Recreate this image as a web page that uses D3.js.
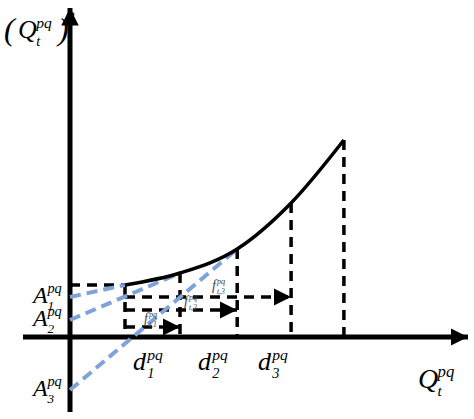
<!DOCTYPE html>
<html><head><meta charset="utf-8">
<script src="https://cdn.jsdelivr.net/npm/d3@7"></script>
<style>body{margin:0;background:#fff}text{font-family:"Liberation Serif",serif;font-style:italic}</style>
</head><body><svg id="c" width="474" height="419"></svg>
<script>
const breakX = [1, 2, 3.04, 4.02, 4.98],
    breakY = [5.2, 6.4, 8.8, 13.4, 19.7],
    interceptY = [4.0, 1.7, -5.3],   // A1, A2, A3
    arrowY = [1.0, 2.7, 4.0],        // f1, f2, f3 rows
    dLabels = ['1', '2', '3'];

const svg = d3.select('#c'),
    x = d3.scaleLinear().domain([0, 1]).range([70, 125]),
    y = d3.scaleLinear().domain([0, 1]).range([337, 327]),
    blue = '#7fa3d9';

const defs = svg.append('defs');
defs.append('marker').attr('id', 'ah').attr('viewBox', '0 0 10 10').attr('refX', 10).attr('refY', 5)
    .attr('markerWidth', 5).attr('markerHeight', 5).attr('orient', 'auto')
    .append('path').attr('d', 'M0,0L10,5L0,10z').attr('fill', '#000');
defs.append('marker').attr('id', 'big').attr('viewBox', '0 0 10 10').attr('refX', 10).attr('refY', 5)
    .attr('markerWidth', 3.5).attr('markerHeight', 3.5).attr('orient', 'auto')
    .append('path').attr('d', 'M0,0L10,5L0,10z').attr('fill', '#000');

// axes
svg.append('line').attr('x1', x(0)).attr('y1', 412).attr('x2', x(0)).attr('y2', 8)
    .attr('stroke', '#000').attr('stroke-width', 5).attr('marker-end', 'url(#big)');
svg.append('line').attr('x1', 23).attr('y1', y(0)).attr('x2', 468).attr('y2', y(0))
    .attr('stroke', '#000').attr('stroke-width', 5).attr('marker-end', 'url(#big)');

const dash = '10,7';
// verticals
breakX.forEach((d, i) => {
    svg.append('line').attr('x1', x(d)).attr('x2', x(d)).attr('y1', y(breakY[i])).attr('y2', y(0))
        .attr('stroke', '#000').attr('stroke-width', 3.5).attr('stroke-dasharray', dash);
});
// A1 horizontal
svg.append('line').attr('x1', x(0)).attr('x2', x(breakX[0])).attr('y1', y(breakY[0])).attr('y2', y(breakY[0]))
    .attr('stroke', '#000').attr('stroke-width', 3.5).attr('stroke-dasharray', dash);
// arrows
arrowY.forEach((v, i) => {
    svg.append('line').attr('x1', x(breakX[0])).attr('x2', x(breakX[i + 1])).attr('y1', y(v)).attr('y2', y(v))
        .attr('stroke', '#000').attr('stroke-width', 3.5).attr('stroke-dasharray', dash)
        .attr('marker-end', 'url(#ah)');
});
// blue tangent lines
interceptY.forEach((v, i) => {
    svg.append('line').attr('x1', x(0)).attr('y1', y(v)).attr('x2', x(breakX[i])).attr('y2', y(breakY[i]))
        .attr('stroke', blue).attr('stroke-width', 4).attr('stroke-dasharray', '11,6');
});
// curve
svg.append('path').datum(breakX.map((d, i) => [d, breakY[i]]))
    .attr('d', d3.line().x(d => x(d[0])).y(d => y(d[1])).curve(d3.curveMonotoneX))
    .attr('fill', 'none').attr('stroke', '#000').attr('stroke-width', 3.5);

// base letter with stacked subscript and superscript
function label(px, py, base, sub, sup, size, col, bw) {
    const g = svg.append('g').attr('fill', col || '#000');
    g.append('text').attr('x', px).attr('y', py).attr('font-size', size).text(base);
    const sx = px + size * (bw || 0.55);
    g.append('text').attr('x', sx).attr('y', py + size * 0.3).attr('font-size', size * 0.55)
        .attr('font-style', /^\d/.test(sub) ? 'normal' : 'italic').text(sub);
    g.append('text').attr('x', sx).attr('y', py - size * 0.4).attr('font-size', size * 0.6).text(sup);
}
interceptY.forEach((v, i) => label(33, y(v) + 6, 'A', String(i + 1), 'pq', 24, null, 0.6));
[145, 210, 270].forEach((px, i) => label(px - 12, 370, 'd', dLabels[i], 'pq', 26));
label(212, 290, 'f', 't,3', 'pq', 14, '#444', 0.35);
label(184, 306, 'f', 't,2', 'pq', 14, '#444', 0.35);
label(144, 323, 'f', 't,1', 'pq', 14, '#444', 0.35);
label(418, 388, 'Q', 't', 'pq', 28, null, 0.7);
// top-left label
const tl = svg.append('g');
tl.append('text').attr('x', 4).attr('y', 40).attr('font-size', 32).attr('font-style', 'normal').text('(');
label(18, 38, 'Q', 't', 'pq', 26, null, 0.7);
tl.append('text').attr('x', 58).attr('y', 40).attr('font-size', 32).attr('font-style', 'normal').text(')');
tl.append('text').attr('x', 67).attr('y', 22).attr('font-size', 15).attr('font-style', 'normal').text('2');
</script></body></html>
